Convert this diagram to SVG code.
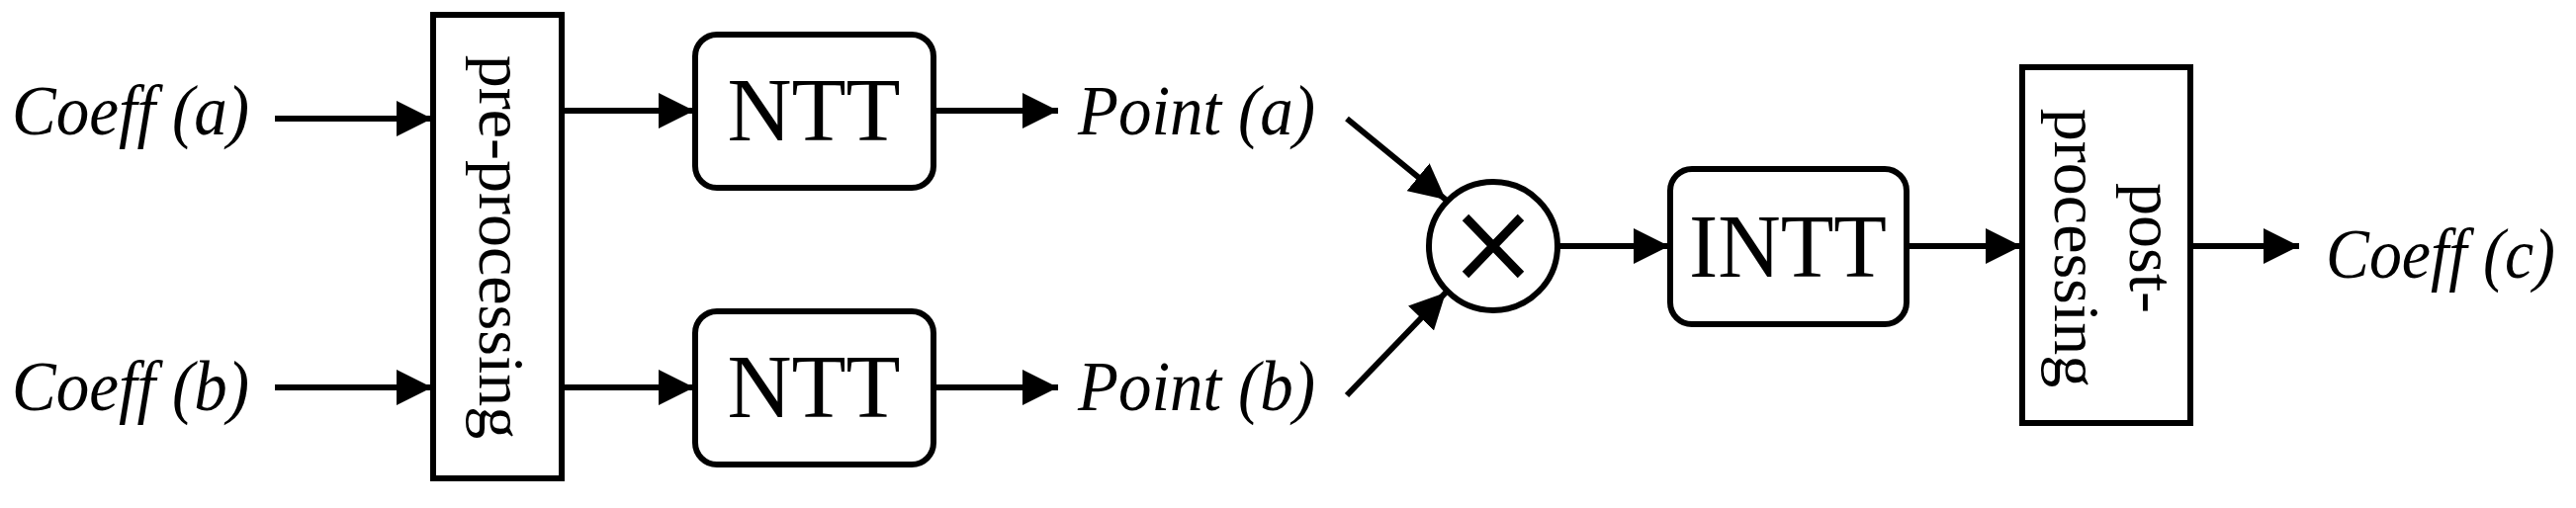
<svg xmlns="http://www.w3.org/2000/svg" width="2605" height="514" viewBox="0 0 2605 514">
<style>
.b{fill:#fff;stroke:#000;stroke-width:6}
.c{stroke:#000;stroke-width:6;fill:none}
.t{font-family:"Liberation Serif",serif;fill:#000}
.l{font-family:"Liberation Serif",serif;font-style:italic;font-size:72px;fill:#000}
</style>
<defs><marker id="a" viewBox="0 0 10 10" refX="10" refY="5" markerWidth="6" markerHeight="6" orient="auto" markerUnits="strokeWidth"><path d="M0,0L10,5L0,10z"/></marker></defs>
<g id="ca"><text class="l" x="12" y="136" textLength="240" lengthAdjust="spacingAndGlyphs">Coeff (a)</text></g>
<g id="cb"><text class="l" x="12" y="415" textLength="240" lengthAdjust="spacingAndGlyphs">Coeff (b)</text></g>
<g id="pre"><rect class="b" x="438" y="15" width="130" height="469"/><text class="t" font-size="66" transform="translate(485,250) rotate(90)" text-anchor="middle">pre-processing</text></g>
<g id="ntt1"><rect class="b" x="703" y="35" width="241" height="155" rx="22"/><text class="t" font-size="92" x="823" y="142" text-anchor="middle" textLength="175" lengthAdjust="spacingAndGlyphs">NTT</text></g>
<g id="ntt2"><rect class="b" x="703" y="315" width="241" height="155" rx="22"/><text class="t" font-size="92" x="823" y="422" text-anchor="middle" textLength="175" lengthAdjust="spacingAndGlyphs">NTT</text></g>
<g id="pa"><text class="l" x="1090" y="136" textLength="240" lengthAdjust="spacingAndGlyphs">Point (a)</text></g>
<g id="pb"><text class="l" x="1090" y="415" textLength="240" lengthAdjust="spacingAndGlyphs">Point (b)</text></g>
<g id="mul"><circle class="b" cx="1510" cy="249" r="65"/><path stroke="#000" stroke-width="9" d="M1482,220L1538,278M1538,220L1482,278"/></g>
<g id="intt"><rect class="b" x="1689" y="171" width="239" height="157" rx="22"/><text class="t" font-size="92" x="1808" y="280" text-anchor="middle" textLength="200" lengthAdjust="spacingAndGlyphs">INTT</text></g>
<g id="post"><rect class="b" x="2045" y="68" width="170" height="360"/><text class="t" font-size="66" transform="translate(2154,251) rotate(90)" text-anchor="middle">post-</text><text class="t" font-size="66" transform="translate(2078,251) rotate(90)" text-anchor="middle">processing</text></g>
<g id="cc"><text class="l" x="2352" y="281" textLength="232" lengthAdjust="spacingAndGlyphs">Coeff (c)</text></g>
<g id="edges" class="c" marker-end="url(#a)">
<line x1="278" y1="120" x2="437" y2="120"/>
<line x1="278" y1="392" x2="437" y2="392"/>
<line x1="568" y1="112" x2="702" y2="112"/>
<line x1="568" y1="392" x2="702" y2="392"/>
<line x1="944" y1="112" x2="1070" y2="112"/>
<line x1="944" y1="392" x2="1070" y2="392"/>
<line x1="1362" y1="120" x2="1462" y2="202"/>
<line x1="1362" y1="400" x2="1462" y2="296"/>
<line x1="1575" y1="249" x2="1688" y2="249"/>
<line x1="1928" y1="249" x2="2044" y2="249"/>
<line x1="2215" y1="249" x2="2325" y2="249"/>
</g>
</svg>
